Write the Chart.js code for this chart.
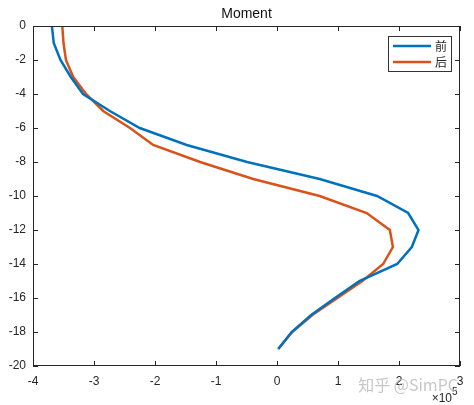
<!DOCTYPE html>
<html>
<head>
<meta charset="utf-8">
<script src="https://cdn.jsdelivr.net/npm/chart.js@4"></script>
<style>
  html, body { margin: 0; padding: 0; background: #fff; }
  #wrap { width: 474px; height: 405px; }
</style>
</head>
<body>
<div id="wrap"><canvas id="momentChart" width="474" height="405"></canvas></div>
<script>
// depth (m) and moment values in units of 1e5
const depth = [0, -1, -2, -3, -4, -5, -6, -7, -8, -9, -10, -11, -12, -13, -14, -15, -16, -17, -18, -19];
const before = [-3.69, -3.66, -3.55, -3.38, -3.18, -2.74, -2.25, -1.48, -0.49, 0.70, 1.64, 2.15, 2.32, 2.21, 1.97, 1.35, 0.95, 0.56, 0.24, 0.02];
const after = [-3.52, -3.50, -3.46, -3.34, -3.13, -2.85, -2.41, -2.03, -1.26, -0.39, 0.70, 1.47, 1.85, 1.90, 1.74, 1.40, 0.99, 0.58, 0.25, 0.02];
const seriesNames = ["前", "后"];
const xTicks = [-4, -3, -2, -1, 0, 1, 2, 3];
const yTicks = [0, -2, -4, -6, -8, -10, -12, -14, -16, -18, -20];

const txt = "#262626";
const font = "'Liberation Sans', Arial, sans-serif";

// MATLAB-like box with inward ticks, title, x10^5 exponent and watermark
const boxPlugin = {
    id: "box",
    afterDatasetsDraw(chart) {
        const { ctx, chartArea: a, scales } = chart;
        ctx.save();
        ctx.strokeStyle = txt;
        ctx.lineWidth = 1;
        ctx.strokeRect(a.left + 0.5, a.top + 0.5, a.right - a.left - 1, a.bottom - a.top - 1);
        ctx.beginPath();
        xTicks.forEach(v => {
            const px = Math.round(scales.x.getPixelForValue(v)) + 0.5;
            ctx.moveTo(px, a.bottom); ctx.lineTo(px, a.bottom - 5);
            ctx.moveTo(px, a.top); ctx.lineTo(px, a.top + 5);
        });
        yTicks.forEach(v => {
            const py = Math.round(scales.y.getPixelForValue(v)) + 0.5;
            ctx.moveTo(a.left, py); ctx.lineTo(a.left + 5, py);
            ctx.moveTo(a.right, py); ctx.lineTo(a.right - 5, py);
        });
        ctx.stroke();

        ctx.fillStyle = "#111";
        ctx.font = "14px " + font;
        ctx.textAlign = "center";
        ctx.textBaseline = "alphabetic";
        ctx.fillText("Moment", (a.left + a.right) / 2, a.top - 8);

        ctx.fillStyle = txt;
        ctx.font = "12px " + font;
        ctx.textAlign = "right";
        ctx.fillText("×10", a.right - 8, a.bottom + 36);
        ctx.font = "10px " + font;
        ctx.textAlign = "left";
        ctx.fillText("5", a.right - 8, a.bottom + 29);

        ctx.font = "16px 'Noto Sans CJK SC', sans-serif";
        ctx.fillStyle = "rgba(185,185,185,0.8)";
        ctx.textAlign = "right";
        ctx.fillText("知乎 @SimPC", a.right - 2, a.bottom + 25);
        ctx.restore();
    }
};

const ctx = document.getElementById("momentChart").getContext("2d");
new Chart(ctx, {
    type: "scatter",
    data: {
        datasets: [
            {
                label: seriesNames[0],
                data: depth.map((d, i) => ({ x: before[i], y: d })),
                showLine: true,
                borderColor: "#0072BD",
                backgroundColor: "#0072BD",
                borderWidth: 2.5,
                pointRadius: 0,
                tension: 0
            },
            {
                label: seriesNames[1],
                data: depth.map((d, i) => ({ x: after[i], y: d })),
                showLine: true,
                borderColor: "#D95319",
                backgroundColor: "#D95319",
                borderWidth: 2.5,
                pointRadius: 0,
                tension: 0
            }
        ]
    },
    options: {
        responsive: false,
        animation: false,
        layout: { padding: { left: 0, right: 14, top: 26, bottom: 0 } },
        plugins: {
            title: { display: false },
            legend: { display: false },
            tooltip: { enabled: false }
        },
        scales: {
            x: {
                type: "linear",
                min: -4, max: 3,
                afterBuildTicks: s => { s.ticks = xTicks.map(v => ({ value: v })); },
                afterFit: s => { s.height = 39; },
                grid: { display: false, drawTicks: false },
                border: { display: false },
                ticks: { color: txt, font: { family: font, size: 12 }, padding: 8, maxRotation: 0 }
            },
            y: {
                type: "linear",
                min: -20, max: 0,
                afterBuildTicks: s => { s.ticks = yTicks.map(v => ({ value: v })); },
                afterFit: s => { s.width = 33; },
                grid: { display: false, drawTicks: false },
                border: { display: false },
                ticks: { color: txt, font: { family: font, size: 12 }, padding: 7 }
            }
        }
    },
    plugins: [boxPlugin, {
        id: "legendBox",
        afterDraw(chart) {
            // legend in the top-right corner, like MATLAB's 'northeast'
            const { ctx, chartArea: a } = chart;
            const w = 64, h = 36;
            const lx = a.right - 8 - w, ly = a.top + 10;
            ctx.save();
            ctx.fillStyle = "#fff";
            ctx.fillRect(lx, ly, w, h);
            ctx.strokeStyle = "#333";
            ctx.lineWidth = 1;
            ctx.strokeRect(lx + 0.5, ly + 0.5, w - 1, h - 1);
            chart.data.datasets.forEach((ds, i) => {
                const cy = ly + 10 + i * 16;
                ctx.strokeStyle = ds.borderColor;
                ctx.lineWidth = 2.5;
                ctx.beginPath();
                ctx.moveTo(lx + 5, cy); ctx.lineTo(lx + 43, cy);
                ctx.stroke();
                ctx.fillStyle = txt;
                ctx.font = "12px 'Noto Sans CJK SC', sans-serif";
                ctx.textBaseline = "middle";
                ctx.textAlign = "left";
                ctx.fillText(ds.label, lx + 47, cy);
            });
            ctx.restore();
        }
    }]
});
</script>
</body>
</html>
